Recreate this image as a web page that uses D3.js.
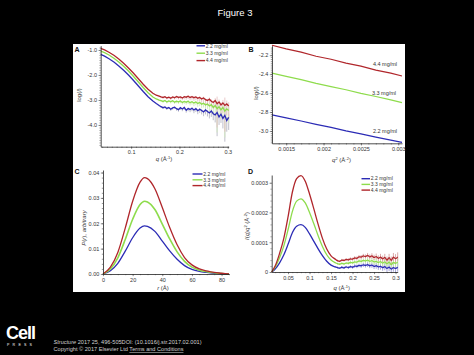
<!DOCTYPE html>
<html><head><meta charset="utf-8">
<script src="https://cdn.jsdelivr.net/npm/d3@7"></script>
<style>
html,body{margin:0;padding:0;background:#000;}
svg{display:block;}
text{font-family:"Liberation Sans",Arial,sans-serif;}
</style></head><body>
<svg id="c" width="474" height="355"></svg>
<script>
// ---------- data ----------
const seriesNames = ["2.2 mg/ml","3.3 mg/ml","4.4 mg/ml"];
const seriesColors = ["#2b2bb5","#8edc4c","#b0262b"];

// Panel A: log(I) vs q
const qA = [0.037,0.045,0.055,0.065,0.075,0.085,0.095,0.105,0.115,0.125,0.135,0.145,0.152,0.158,
  0.162,0.166,0.170,0.174,0.178,0.182,0.186,0.190,0.194,0.198,0.202,0.206,0.210,0.214,0.218,0.222,0.226,0.230,
  0.234,0.238,0.242,0.246,0.250,0.254,0.258,0.262,0.266,0.270,0.274,0.278,0.282,0.286,0.290,0.294,0.298,0.302];
const logI22 = [-1.18,-1.25,-1.36,-1.49,-1.65,-1.82,-2.01,-2.22,-2.44,-2.66,-2.87,-3.04,-3.14,-3.22,
  -3.27,-3.31,-3.28,-3.34,-3.30,-3.37,-3.32,-3.29,-3.35,-3.39,-3.31,-3.36,-3.30,-3.41,-3.34,-3.38,-3.33,-3.40,
  -3.35,-3.43,-3.37,-3.42,-3.48,-3.40,-3.46,-3.52,-3.44,-3.55,-3.60,-3.50,-3.68,-3.57,-3.74,-3.62,-3.82,-3.70];
const logI33 = [-1.05,-1.11,-1.21,-1.34,-1.49,-1.66,-1.85,-2.06,-2.28,-2.50,-2.71,-2.88,-2.96,-3.01,
  -3.03,-3.06,-3.02,-3.08,-3.04,-3.07,-3.03,-3.09,-3.05,-3.08,-3.04,-3.10,-3.06,-3.09,-3.05,-3.11,-3.07,-3.12,
  -3.08,-3.14,-3.10,-3.17,-3.13,-3.20,-3.16,-3.24,-3.19,-3.30,-3.22,-3.35,-3.27,-3.40,-3.30,-3.45,-3.36,-3.42];
const logI44 = [-0.94,-1.00,-1.10,-1.22,-1.37,-1.54,-1.73,-1.93,-2.15,-2.37,-2.57,-2.73,-2.81,-2.85,
  -2.88,-2.90,-2.87,-2.92,-2.89,-2.93,-2.88,-2.91,-2.86,-2.90,-2.88,-2.92,-2.87,-2.89,-2.85,-2.90,-2.87,-2.91,
  -2.88,-2.93,-2.90,-2.96,-2.92,-2.99,-3.02,-2.97,-3.05,-3.10,-3.02,-3.15,-3.08,-3.20,-3.12,-3.22,-3.16,-3.24];
const errA = [0,0,0,0,0,0,0,0,0,0,0,0,0,0.04,
  0.05,0.05,0.06,0.06,0.06,0.07,0.07,0.07,0.08,0.08,0.09,0.09,0.10,0.10,0.11,0.11,0.12,0.13,
  0.13,0.14,0.15,0.16,0.17,0.18,0.20,0.22,0.24,0.26,0.30,0.95,0.32,0.35,0.40,1.05,0.45,0.50];
const xTicksA = [0.1,0.2,0.3], xLabelsA = ["0.1","0.2","0.3"];
const yTicksA = [-1,-2,-3,-4], yLabelsA = ["-1.0","-2.0","-3.0","-4.0"];

// Panel B: Guinier
const q2B = [0.00131,0.0015,0.0017,0.0019,0.0021,0.0023,0.0025,0.0027,0.0029,0.00305];
const guin22 = [-2.830,-2.862,-2.895,-2.930,-2.962,-2.998,-3.030,-3.065,-3.097,-3.120];
const guin33 = [-2.390,-2.424,-2.458,-2.497,-2.531,-2.565,-2.603,-2.636,-2.672,-2.700];
const guin44 = [-2.095,-2.133,-2.168,-2.211,-2.243,-2.284,-2.316,-2.358,-2.390,-2.420];
const xTicksB = [0.0015,0.002,0.0025,0.003], xLabelsB = ["0.0015","0.002","0.0025","0.003"];
const yTicksB = [-2.2,-2.4,-2.6,-2.8,-3.0], yLabelsB = ["-2.2","-2.4","-2.6","-2.8","-3.0"];

// Panel C: P(r)
const rC = [0,5,10,15,20,25,28,30,35,40,45,50,55,60,65,70,75,80,85];
const pr22 = [0,0.0013,0.0042,0.0090,0.0143,0.0181,0.0190,0.0188,0.0168,0.0130,0.0091,0.0058,0.0033,0.0018,0.0010,0.0006,0.0003,0.0001,0];
const pr33 = [0,0.0020,0.0064,0.0136,0.0216,0.0274,0.0287,0.0284,0.0254,0.0197,0.0138,0.0087,0.0050,0.0027,0.0015,0.0009,0.0005,0.0002,0];
const pr44 = [0,0.0027,0.0085,0.0181,0.0287,0.0362,0.0380,0.0376,0.0336,0.0262,0.0183,0.0115,0.0065,0.0036,0.0020,0.0012,0.0006,0.0003,0];
const xTicksC = [0,20,40,60,80], xLabelsC = ["0","20","40","60","80"];
const yTicksC = [0,0.01,0.02,0.03,0.04], yLabelsC = ["0.00","0.01","0.02","0.03","0.04"];

// Panel D: Kratky
const qD = [0.012,0.02,0.03,0.04,0.05,0.06,0.07,0.08,0.09,0.10,0.11,0.12,0.13,0.14,0.15,0.16,
  0.165,0.17,0.175,0.18,0.185,0.19,0.195,0.2,0.205,0.21,0.215,0.22,0.225,0.23,0.235,0.24,0.245,0.25,
  0.255,0.26,0.265,0.27,0.275,0.28,0.285,0.29,0.295,0.3,0.305];
const kr22 = [0,10e-6,30e-6,57e-6,93e-6,132e-6,154e-6,159e-6,150e-6,128e-6,103e-6,78e-6,55e-6,36e-6,23e-6,17e-6,
  15e-6,13e-6,16e-6,14e-6,17e-6,15e-6,18e-6,16e-6,20e-6,19e-6,22e-6,21e-6,24e-6,22e-6,25e-6,21e-6,23e-6,19e-6,
  21e-6,17e-6,19e-6,15e-6,18e-6,12e-6,16e-6,10e-6,15e-6,12e-6,16e-6];
const kr33 = [0,16e-6,47e-6,87e-6,142e-6,203e-6,238e-6,246e-6,232e-6,200e-6,162e-6,122e-6,86e-6,58e-6,40e-6,31e-6,
  28e-6,26e-6,29e-6,27e-6,30e-6,29e-6,32e-6,31e-6,34e-6,33e-6,37e-6,36e-6,39e-6,37e-6,40e-6,36e-6,38e-6,34e-6,
  36e-6,32e-6,35e-6,30e-6,34e-6,27e-6,33e-6,25e-6,32e-6,29e-6,34e-6];
const kr44 = [0,20e-6,61e-6,112e-6,185e-6,268e-6,314e-6,324e-6,305e-6,262e-6,212e-6,160e-6,113e-6,77e-6,54e-6,43e-6,
  38e-6,36e-6,40e-6,39e-6,42e-6,41e-6,44e-6,43e-6,47e-6,46e-6,51e-6,50e-6,54e-6,52e-6,56e-6,51e-6,54e-6,49e-6,
  52e-6,46e-6,50e-6,44e-6,49e-6,40e-6,48e-6,39e-6,50e-6,45e-6,51e-6];
const errD = [0,0,0,0,0,0,0,0,0,0,0,0,0,0,0,2e-6,
  3e-6,3e-6,4e-6,4e-6,4e-6,5e-6,5e-6,5e-6,6e-6,6e-6,6e-6,7e-6,7e-6,7e-6,8e-6,8e-6,9e-6,9e-6,
  10e-6,10e-6,11e-6,11e-6,12e-6,12e-6,13e-6,13e-6,14e-6,15e-6,15e-6];
const xTicksD = [0.05,0.1,0.15,0.2,0.25,0.3], xLabelsD = ["0.05","0.1","0.15","0.2","0.25","0.3"];
const yTicksD = [0,0.0001,0.0002,0.0003], yLabelsD = ["0","0.0001","0.0002","0.0003"];

// ---------- drawing ----------
const svg = d3.select("#c");
svg.append("rect").attr("width",474).attr("height",355).attr("fill","#000");
svg.append("rect").attr("x",73).attr("y",44).attr("width",332).attr("height",248).attr("fill","#fff");

svg.append("text").attr("x",235).attr("y",16).attr("text-anchor","middle")
  .attr("fill","#fff").attr("font-size",9.5).text("Figure 3");

function axes(g, x, y, xt, xl, xminor, yt, yl, yminor){
  g.append("g").attr("transform",`translate(0,${y.range()[0]})`)
    .call(d3.axisBottom(x).tickValues(xt).tickFormat((d,i)=>xl[i]).tickSize(2.2).tickSizeOuter(0).tickPadding(1.5));
  g.append("g").attr("transform",`translate(0,${y.range()[0]})`)
    .call(d3.axisBottom(x).tickValues(xminor).tickFormat("").tickSize(1.2).tickSizeOuter(0))
    .select(".domain").remove();
  g.append("g").attr("transform",`translate(${x.range()[0]},0)`)
    .call(d3.axisLeft(y).tickValues(yt).tickFormat((d,i)=>yl[i]).tickSize(2.2).tickSizeOuter(0).tickPadding(1.5));
  g.append("g").attr("transform",`translate(${x.range()[0]},0)`)
    .call(d3.axisLeft(y).tickValues(yminor).tickFormat("").tickSize(1.2).tickSizeOuter(0))
    .select(".domain").remove();
  g.selectAll(".domain").attr("stroke","#222").attr("stroke-width",0.8);
  g.selectAll(".tick line").attr("stroke","#333").attr("stroke-width",0.5);
  g.selectAll(".tick text").attr("font-size",5.5).attr("fill","#333")
    .attr("font-family","Liberation Sans, Arial, sans-serif");
}
function legend(g, x0, y0, dy, len){
  seriesNames.forEach((n,i)=>{
    g.append("line").attr("x1",x0).attr("x2",x0+len).attr("y1",y0+i*dy).attr("y2",y0+i*dy)
      .attr("stroke",seriesColors[i]).attr("stroke-width",1.4);
    g.append("text").attr("x",x0+len+0.8).attr("y",y0+i*dy).attr("dy","0.35em")
      .attr("font-size",5).attr("fill","#333").text(n);
  });
}
function panelLabel(x,y,t){
  svg.append("text").attr("x",x).attr("y",y).attr("font-size",7).attr("font-weight","bold")
    .attr("fill","#111").text(t);
}
function xTitle(g, cx, cy, parts){
  const t = g.append("text").attr("x",cx).attr("y",cy).attr("text-anchor","middle")
    .attr("font-size",6).attr("fill","#333");
  parts.forEach(p=>{
    const s = t.append("tspan").text(p.t);
    if(p.i) s.attr("font-style","italic");
    if(p.sup) s.attr("baseline-shift","super").attr("font-size",4);
  });
  return t;
}
function yTitle(g, cx, cy, parts){
  const t = xTitle(g, 0, 0, parts);
  t.attr("transform",`translate(${cx},${cy}) rotate(-90)`);
}

// ---- Panel A ----
{
  const g = svg.append("g");
  const x = d3.scaleLinear().domain([0.037,0.302]).range([100.7,228.7]);
  const y = d3.scaleLinear().domain([-4.87,-0.83]).range([146.7,45.7]);
  const sets = [logI22,logI33,logI44];
  const errCol = ["#b8b8c4","#d2eac0","#e6c4c4"];
  sets.forEach((s,k)=>{
    qA.forEach((q,i)=>{ if(errA[i]>0) g.append("line").attr("x1",x(q)).attr("x2",x(q))
      .attr("y1",y(s[i]-errA[i])).attr("y2",y(s[i]+errA[i]*0.3))
      .attr("stroke", errCol[k]).attr("stroke-width",0.9); });
  });
  sets.forEach((s,k)=>{
    g.append("path").datum(qA.map((q,i)=>[q,s[i]])).attr("fill","none")
      .attr("stroke",seriesColors[k]).attr("stroke-width",1.3)
      .attr("d",d3.line().x(d=>x(d[0])).y(d=>y(d[1])).curve(d3.curveLinear));
  });
  axes(g,x,y,xTicksA,xLabelsA,d3.range(0.04,0.301,0.01),yTicksA,yLabelsA,d3.range(-4.8,-0.85,0.1));
  legend(g,196.5,45.8,7.4,8.5);
  xTitle(g,164,160.5,[{t:"q",i:true},{t:" (Å"},{t:"-1",sup:true},{t:")"}]);
  yTitle(g,80.5,95,[{t:"log("},{t:"I",i:true},{t:")"}]);
  panelLabel(74.5,52,"A");
}
// ---- Panel B ----
{
  const g = svg.append("g");
  const x = d3.scaleLinear().domain([0.00131,0.00305]).range([272,402]);
  const y = d3.scaleLinear().domain([-3.13,-2.1]).range([143.3,45.7]);
  const sets = [guin22,guin33,guin44];
  sets.forEach((s,k)=>{
    g.append("path").datum(q2B.map((q,i)=>[q,s[i]])).attr("fill","none")
      .attr("stroke",seriesColors[k]).attr("stroke-width",1.2)
      .attr("d",d3.line().x(d=>x(d[0])).y(d=>y(d[1])));
  });
  axes(g,x,y,xTicksB,xLabelsB,d3.range(0.0014,0.00305,0.0001),yTicksB,yLabelsB,d3.range(-3.12,-2.1,0.02));
  const lbl = [[385,133,0],[384,94.5,1],[385,66,2]];
  lbl.forEach(l=>g.append("text").attr("x",l[0]).attr("y",l[1]).attr("text-anchor","middle")
    .attr("font-size",5.5).attr("fill","#333").text(seriesNames[l[2]]));
  xTitle(g,341.5,162,[{t:"q",i:true},{t:"2",sup:true},{t:" (Å"},{t:"-2",sup:true},{t:")"}]);
  yTitle(g,258,93,[{t:"log("},{t:"I",i:true},{t:")"}]);
  panelLabel(248.5,52,"B");
}
// ---- Panel C ----
{
  const g = svg.append("g");
  const x = d3.scaleLinear().domain([0,85]).range([103,229]);
  const y = d3.scaleLinear().domain([0,0.041]).range([274,170]);
  const sets = [pr22,pr33,pr44];
  sets.forEach((s,k)=>{
    g.append("path").datum(rC.map((r,i)=>[r,s[i]])).attr("fill","none")
      .attr("stroke",seriesColors[k]).attr("stroke-width",k===1?1.6:1.3)
      .attr("d",d3.line().x(d=>x(d[0])).y(d=>y(d[1])).curve(d3.curveMonotoneX));
  });
  axes(g,x,y,xTicksC,xLabelsC,d3.range(0,85.1,5),yTicksC,yLabelsC,d3.range(0,0.0405,0.002));
  legend(g,192.5,174,5.8,10);
  xTitle(g,163,289.5,[{t:"r",i:true},{t:" (Å)"}]);
  yTitle(g,85.5,228,[{t:"P",i:true},{t:"("},{t:"r",i:true},{t:"), "},{t:"arbitrary",i:true}]);
  panelLabel(74.5,174,"C");
}
// ---- Panel D ----
{
  const g = svg.append("g");
  const x = d3.scaleLinear().domain([0.012,0.305]).range([271.7,397.7]);
  const y = d3.scaleLinear().domain([0,0.000326]).range([272,175]);
  const sets = [kr22,kr33,kr44];
  const errCol = ["#9c9cd8","#c4e8a6","#d6a0a0"];
  sets.forEach((s,k)=>{
    qD.forEach((q,i)=>{ if(errD[i]>0) g.append("line").attr("x1",x(q)).attr("x2",x(q))
      .attr("y1",y(s[i]-errD[i])).attr("y2",y(s[i]+errD[i]))
      .attr("stroke",errCol[k]).attr("stroke-width",0.9); });
  });
  sets.forEach((s,k)=>{
    g.append("path").datum(qD.map((q,i)=>[q,s[i]])).attr("fill","none")
      .attr("stroke",seriesColors[k]).attr("stroke-width",1.3)
      .attr("d",d3.line().x(d=>x(d[0])).y(d=>y(d[1])).curve(d3.curveMonotoneX));
  });
  axes(g,x,y,xTicksD,xLabelsD,d3.range(0.02,0.301,0.01),yTicksD,yLabelsD,d3.range(0,0.00032,0.00002));
  legend(g,361.5,178.7,5.7,8.5);
  xTitle(g,341.7,289.5,[{t:"q",i:true},{t:" (Å"},{t:"-1",sup:true},{t:")"}]);
  yTitle(g,249.3,226,[{t:"I",i:true},{t:"("},{t:"q",i:true},{t:")"},{t:"q",i:true},{t:"2",sup:true},{t:" (Å"},{t:"-2",sup:true},{t:")"}]);
  panelLabel(248,174,"D");
}

// ---- footer ----
svg.append("text").attr("x",6).attr("y",339).attr("font-size",18).attr("font-weight","bold")
  .attr("letter-spacing",-1).attr("fill","#fff").text("Cell");
svg.append("text").attr("x",7).attr("y",345.5).attr("font-size",3.6).attr("letter-spacing",3.2)
  .attr("fill","#fff").text("PRESS");
const f1 = svg.append("text").attr("x",53.5).attr("y",344.3).attr("font-size",5.6).attr("fill","#d0d0d0");
f1.append("tspan").attr("font-style","italic").text("Structure");
f1.append("tspan").text(" 2017 25, 496-505DOI: (10.1016/j.str.2017.02.001)");
const f2 = svg.append("text").attr("x",53.5).attr("y",351.3).attr("font-size",5.6).attr("fill","#d0d0d0");
f2.append("tspan").text("Copyright © 2017 Elsevier Ltd ");
f2.append("tspan").attr("text-decoration","underline").text("Terms and Conditions");
</script>
</body></html>
